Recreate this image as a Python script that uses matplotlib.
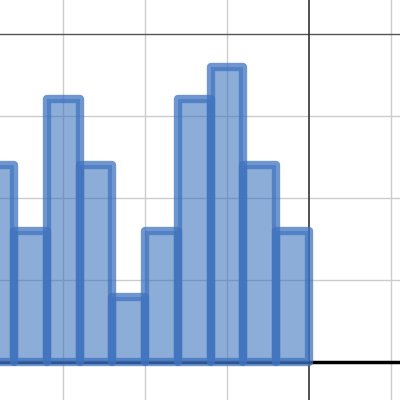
import matplotlib
matplotlib.use("Agg")
import matplotlib.pyplot as plt

lefts = [-4.0, -3.6, -3.2, -2.8, -2.4, -2.0, -1.6, -1.2, -0.8, -0.4]
heights = [2.4, 1.6, 3.2, 2.4, 0.8, 1.6, 3.2, 3.6, 2.4, 1.6]
width = 0.4

fig = plt.figure(figsize=(4, 4), dpi=100)
ax = fig.add_axes([0, 0, 1, 1])
ax.set_xlim(-3.77, 1.11)
ax.set_ylim(-0.46, 4.41)
for v in [-3, -2, -1, 1]:
    ax.axvline(v, color="#cccccc", lw=1, zorder=0)
for v in [1, 2, 3]:
    ax.axhline(v, color="#cccccc", lw=1, zorder=0)
ax.axhline(4, color="#555555", lw=1, zorder=0)
ax.axvline(0, color="#333333", lw=1.2, zorder=0)
ax.axhline(0, color="black", lw=2.5, zorder=0)

ax.bar(lefts, heights, width=width, align="edge", color="#2d6bb8", alpha=0.55,
       edgecolor="none", zorder=2)
ax.bar(lefts, heights, width=width, align="edge", facecolor="none",
       edgecolor=(0.25, 0.45, 0.75, 0.75), linewidth=6, joinstyle="round", zorder=3)
ax.axis("off")
fig.savefig("out.png", dpi=100)
